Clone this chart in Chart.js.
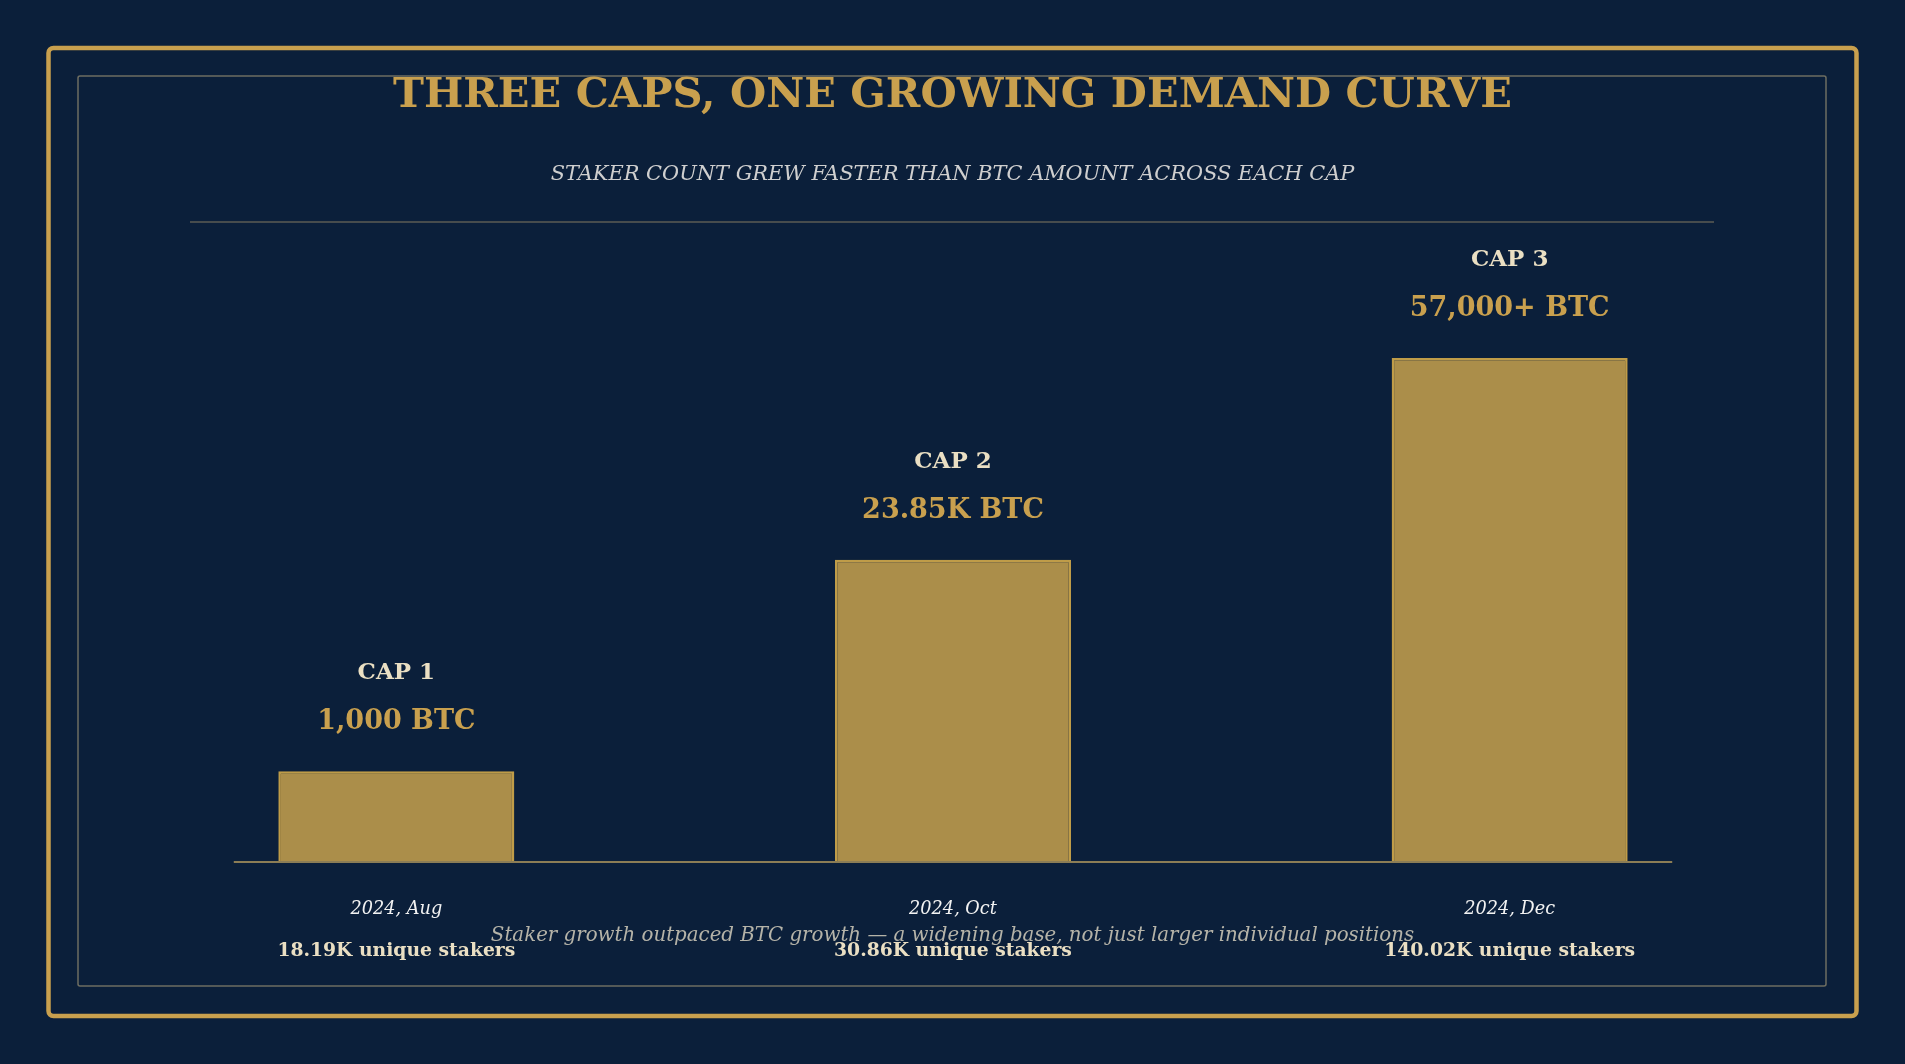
<!DOCTYPE html>
<html>
<head>
    <meta charset="utf-8">
    <title>Three Caps, One Growing Demand Curve</title>
    <script src="https://cdn.jsdelivr.net/npm/chart.js@4.4.1/dist/chart.umd.min.js"></script>
    <style>
        html, body { margin: 0; padding: 0; background: #0b1f3a; }
        #wrap { position: relative; width: 1905px; height: 1064px; }
    </style>
</head>
<body>

<div id="wrap"><canvas id="myChart"></canvas></div>

<script>
    // data
    let caps = ["CAP 1", "CAP 2", "CAP 3"];
    let btcLabels = ["1,000 BTC", "23.85K BTC", "57,000+ BTC"];
    let dates = ["2024, Aug", "2024, Oct", "2024, Dec"];
    let stakers = ["18.19K unique stakers", "30.86K unique stakers", "140.02K unique stakers"];
    // bar heights as drawn (relative, the picture is not to scale with BTC)
    let barHeights = [18, 60, 100];

    let title = "THREE CAPS, ONE GROWING DEMAND CURVE";
    let subtitle = "STAKER COUNT GREW FASTER THAN BTC AMOUNT ACROSS EACH CAP";
    let footnote = "Staker growth outpaced BTC growth \u2014 a widening base, not just larger individual positions";

    const GOLD = "#c9a04e";
    const CREAM = "#eadfc3";
    const SERIF = "'DejaVu Serif', serif";

    function roundRect(ctx, x, y, w, h, r) {
        ctx.beginPath();
        ctx.moveTo(x + r, y);
        ctx.arcTo(x + w, y, x + w, y + h, r);
        ctx.arcTo(x + w, y + h, x, y + h, r);
        ctx.arcTo(x, y + h, x, y, r);
        ctx.arcTo(x, y, x + w, y, r);
        ctx.closePath();
    }

    // frames, titles and the separator behind the chart
    const decor = {
        id: 'decor',
        beforeDraw(chart) {
            const ctx = chart.ctx;
            const W = chart.width;
            ctx.save();
            ctx.fillStyle = "#0b1f3a";
            ctx.fillRect(0, 0, W, chart.height);

            ctx.strokeStyle = GOLD;
            ctx.lineWidth = 4.5;
            roundRect(ctx, 48.5, 48, 1808, 968, 5);
            ctx.stroke();

            ctx.strokeStyle = "#6e6e62";
            ctx.lineWidth = 1.5;
            roundRect(ctx, 78, 76, 1748, 910, 2);
            ctx.stroke();

            ctx.textAlign = "center";
            ctx.textBaseline = "alphabetic";
            ctx.fillStyle = GOLD;
            ctx.font = "bold 41.6px " + SERIF;
            ctx.fillText(title, W / 2, 107);

            ctx.fillStyle = "#cfcfcf";
            ctx.font = "italic 20.9px " + SERIF;
            ctx.fillText(subtitle, W / 2, 180);

            ctx.strokeStyle = "#5c5c55";
            ctx.lineWidth = 1.5;
            ctx.beginPath();
            ctx.moveTo(190, 222);
            ctx.lineTo(1714, 222);
            ctx.stroke();
            ctx.restore();
        },
        afterDatasetsDraw(chart) {
            const ctx = chart.ctx;
            const area = chart.chartArea;
            const xs = chart.scales.x;
            ctx.save();
            // baseline, a bit inside the outer categories
            ctx.strokeStyle = "#8c7d55";
            ctx.lineWidth = 2;
            ctx.beginPath();
            ctx.moveTo(xs.getPixelForValue(-0.292), area.bottom);
            ctx.lineTo(xs.getPixelForValue(2.292), area.bottom);
            ctx.stroke();

            ctx.textAlign = "center";
            ctx.textBaseline = "alphabetic";
            chart.getDatasetMeta(0).data.forEach((bar, i) => {
                ctx.fillStyle = CREAM;
                ctx.font = "bold 23px " + SERIF;
                ctx.fillText(caps[i], bar.x, bar.y - 92);

                ctx.fillStyle = GOLD;
                ctx.font = "bold 27px " + SERIF;
                ctx.fillText(btcLabels[i], bar.x, bar.y - 42);

                ctx.fillStyle = "#f2f2f2";
                ctx.font = "italic 17.7px " + SERIF;
                ctx.fillText(dates[i], bar.x, area.bottom + 52);

                ctx.fillStyle = CREAM;
                ctx.font = "bold 18.75px " + SERIF;
                ctx.fillText(stakers[i], bar.x, area.bottom + 94);
            });

            ctx.fillStyle = "#b5b3a8";
            ctx.font = "italic 19.8px " + SERIF;
            ctx.fillText(footnote, chart.width / 2, area.bottom + 79);
            ctx.restore();
        }
    };

    var ctx = document.getElementById('myChart').getContext('2d');
    var myChart = new Chart(ctx, {
        type: 'bar',
        data: {
            labels: caps,
            datasets: [{
                data: barHeights,
                backgroundColor: "#ab8e4a",
                borderColor: "#bf9c48",
                borderWidth: 2.5,
                barPercentage: 0.424,
                categoryPercentage: 1.0
            }]
        },
        options: {
            responsive: true,
            maintainAspectRatio: false,
            animation: false,
            layout: {
                padding: { left: 118, right: 117, top: 222, bottom: 202 }
            },
            plugins: {
                legend: { display: false },
                tooltip: { enabled: false }
            },
            scales: {
                x: { display: false },
                y: { min: 0, max: 127, display: false }
            }
        },
        plugins: [decor]
    });
</script>

</body>
</html>
